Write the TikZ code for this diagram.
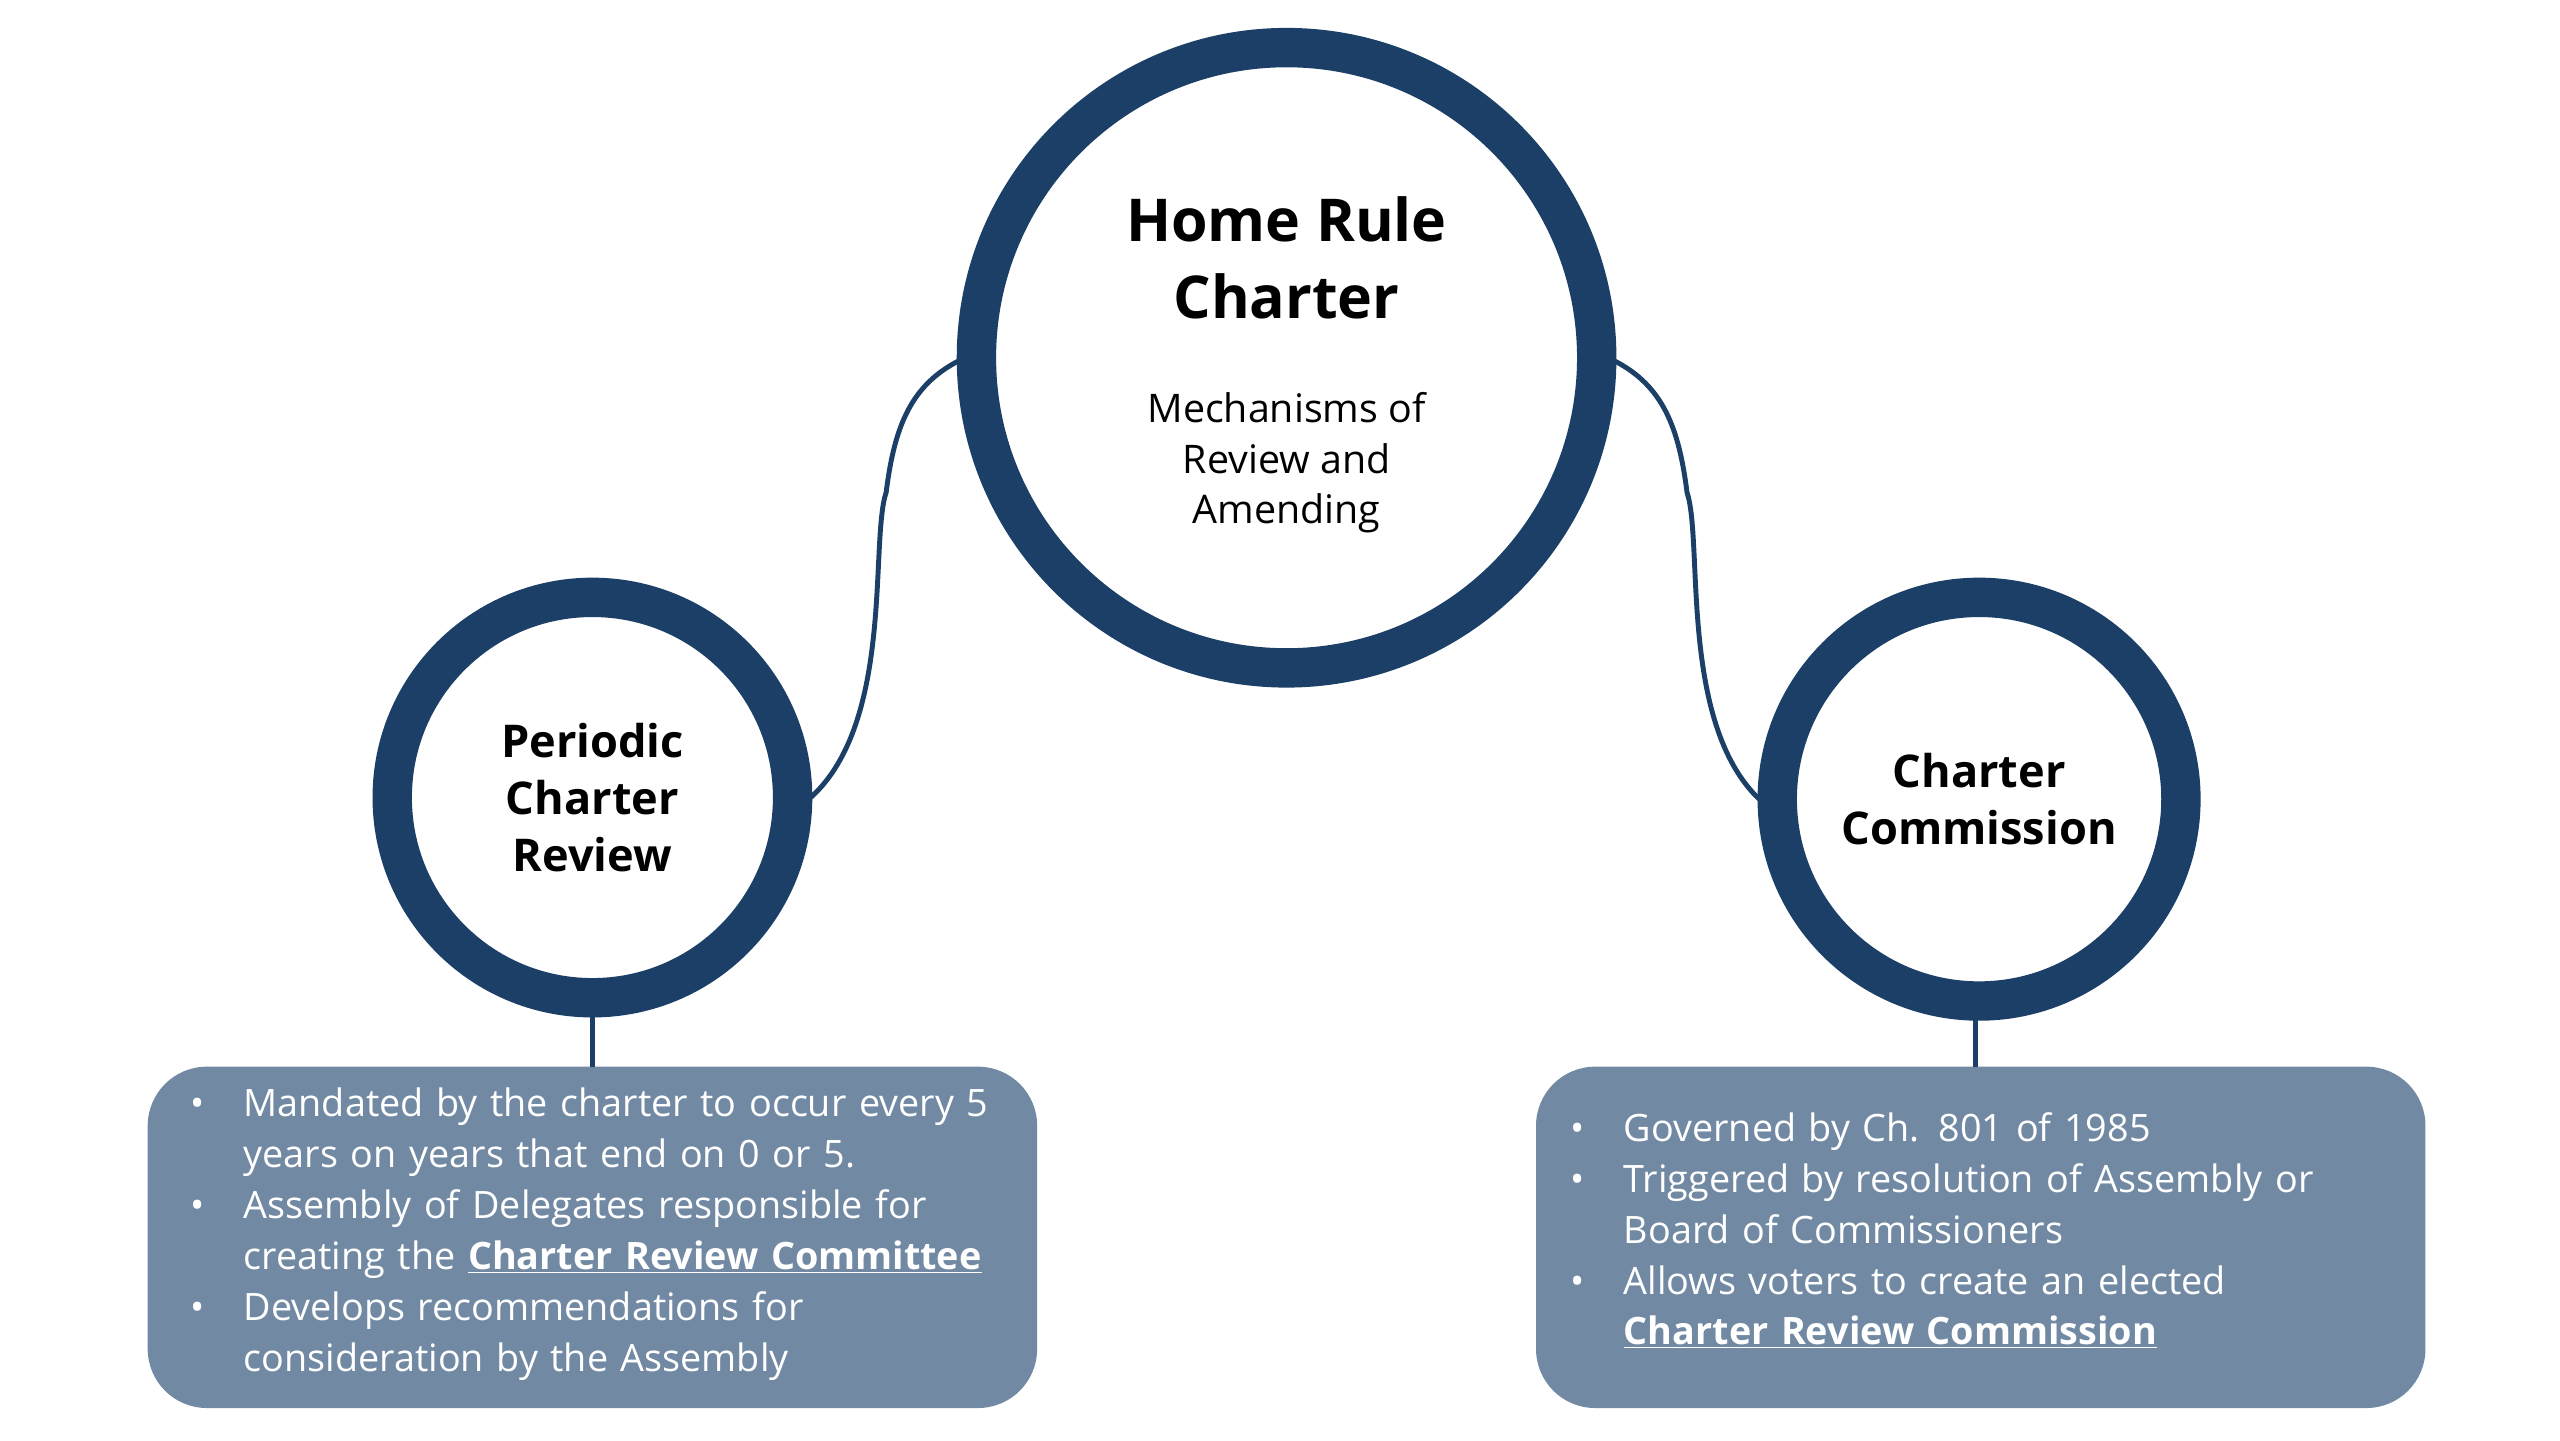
\documentclass[tikz,border=0pt]{standalone}
\usepackage{fontspec}
\setmainfont{Open Sans}
\usepackage{enumitem}
\definecolor{navy}{HTML}{1B3F66}
\definecolor{slate}{HTML}{7189A3}
\begin{document}
\begin{tikzpicture}[
    x=1pt, y=-1pt,
    ring/.style={circle, draw=navy, fill=white, line width=24pt, align=center, text=black},
    panel/.style={fill=slate, rounded corners=36pt},
    link/.style={draw=navy, line width=3pt},
    notes/.style={text=white, text width=500pt, anchor=north west, font=\fontsize{23}{31}\selectfont}
]
\useasboundingbox (0,0) rectangle (1560,878);
% Panels and stems
\fill[panel] (90,650) rectangle (632,858);
\fill[panel] (936,650) rectangle (1478,858);
\coordinate (pl) at (361,650);
\coordinate (pr) at (1204,650);
\draw[link] (361,560) -- (pl);
\draw[link] (1204,560) -- (pr);
% Rings
\node[ring, minimum size=378pt] (home) at (784,218) {};
\node[ring, minimum size=244pt] (review) at (361,486) {};
\node[ring, minimum size=246pt] (commission) at (1206,487) {};
% Ring texts
\node[align=center, font=\bfseries\fontsize{36}{47}\selectfont] (title) at (784,157) {Home Rule\\Charter};
\node[align=center, font=\fontsize{24}{31}\selectfont] (sub) at (784,282) {Mechanisms of\\Review and\\Amending};
\node[align=center, font=\bfseries\fontsize{27.5}{35}\selectfont] at (review) {Periodic\\Charter\\Review};
\node[align=center, font=\bfseries\fontsize{27.5}{35}\selectfont] at (commission) {Charter\\Commission};
% Connections
\coordinate (hl) at (584,220);
\coordinate (hr) at (984,220);
\coordinate (rl) at (494,486);
\coordinate (cr) at (1072,487);
\draw[link] (rl) .. controls (545,440) and (530,330) .. (540,300) .. controls (545,260) and (555,235) .. (hl);
\draw[link] (hr) .. controls (1013,235) and (1023,260) .. (1028,300) .. controls (1038,330) and (1023,440) .. (cr);
% Notes
\node[notes] (leftnotes) at (105,646) {%
\begin{itemize}[leftmargin=40pt, labelsep=24pt, itemsep=0pt, topsep=0pt, parsep=0pt]
\item Mandated by the charter to occur every 5 years on years that end on 0 or 5.
\item Assembly of Delegates responsible for creating the \textbf{\underline{Charter Review Committee}}
\item Develops recommendations for consideration by the Assembly
\end{itemize}};
\node[notes] (rightnotes) at (946,661) {%
\begin{itemize}[leftmargin=40pt, labelsep=24pt, itemsep=0pt, topsep=0pt, parsep=0pt]
\item Governed by Ch. 801 of 1985
\item Triggered by resolution of Assembly or Board of Commissioners
\item Allows voters to create an elected \textbf{\underline{Charter Review Commission}}
\end{itemize}};
\end{tikzpicture}
\end{document}
